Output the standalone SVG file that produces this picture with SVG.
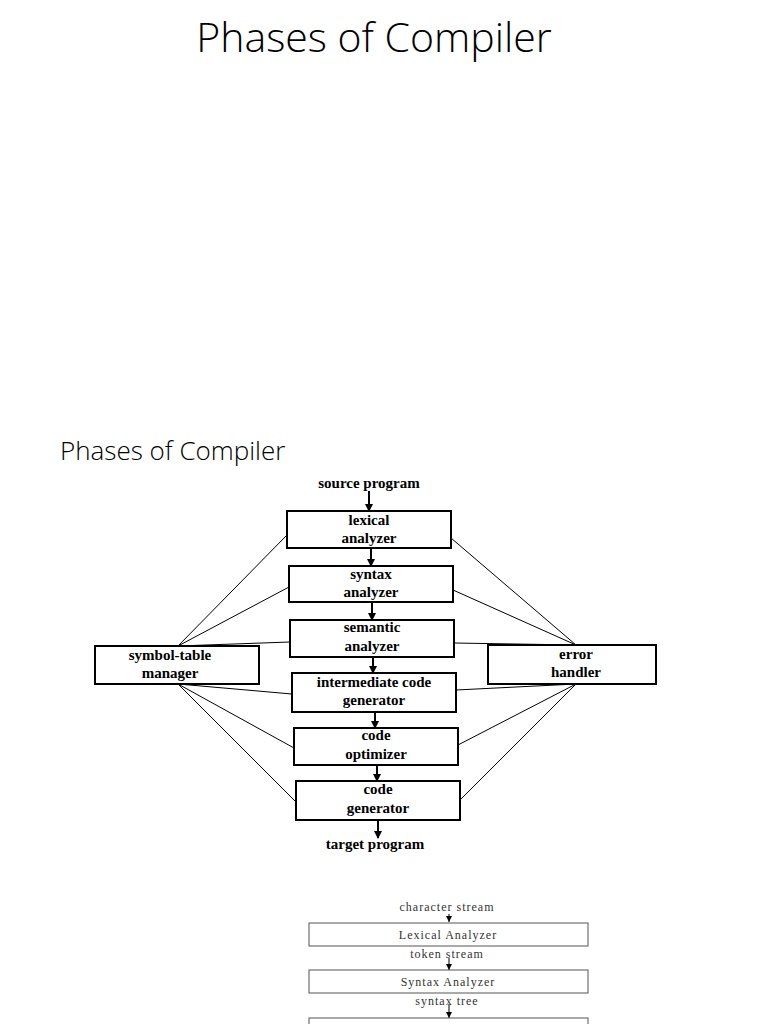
<svg xmlns="http://www.w3.org/2000/svg" width="768" height="1024" viewBox="0 0 768 1024">
<style>
.t{font-family:"Open Sans","Liberation Sans",sans-serif;font-weight:300;fill:#000}
.b{fill:#fff;stroke:#000;stroke-width:2}
.bl{font-family:"Liberation Serif",serif;font-weight:bold;font-size:15px;text-anchor:middle}
.c{stroke:#000;stroke-width:1;fill:none}
.a{stroke:#000;stroke-width:2;fill:none;marker-end:url(#ah)}
.s{fill:#fff;stroke:#555;stroke-width:1}
.sl{font-family:"Liberation Serif",serif;font-size:12px;text-anchor:middle;letter-spacing:1px;fill:#333}
.sa{stroke:#000;stroke-width:1;marker-end:url(#ah2)}
</style>
<defs>
<marker id="ah" markerWidth="8" markerHeight="8" refX="7" refY="4" orient="auto" markerUnits="userSpaceOnUse"><path d="M0,0L8,4L0,8Z"/></marker>
<marker id="ah2" markerWidth="6" markerHeight="6" refX="6" refY="3" orient="auto" markerUnits="userSpaceOnUse"><path d="M0,0L6,3L0,6Z"/></marker>
</defs>
<rect width="768" height="1024" fill="#fff"/>
<text class="t" x="374" y="52" font-size="41" text-anchor="middle">Phases of Compiler</text>
<text class="t" x="60" y="460" font-size="26">Phases of Compiler</text>
<g id="connectors">
<path class="a" d="M369,491V511"/><path class="a" d="M371,548V566"/><path class="a" d="M372,602V620"/><path class="a" d="M373,657V673"/><path class="a" d="M375,712V728"/><path class="a" d="M377,765V781"/><path class="a" d="M378,820V838"/>
<path class="c" d="M178,646L287,535M178,646L289,587M178,646L290,642M178,684L292,694M178,684L294,748M178,684L296,802"/>
<path class="c" d="M576,645L451,538M576,645L453,590M576,645L454,643M576,684L456,690M576,684L458,745M576,684L460,800"/>
<path class="sa" d="M449,914V922"/><path class="sa" d="M449,958V970"/><path class="sa" d="M449,1004V1018"/>
</g>
<g id="lexical"><rect class="b" x="287" y="511" width="164" height="37"/><text class="bl" x="369" y="525">lexical</text><text class="bl" x="369" y="543">analyzer</text></g>
<g id="syntax"><rect class="b" x="289" y="566" width="164" height="36"/><text class="bl" x="371" y="579">syntax</text><text class="bl" x="371" y="597">analyzer</text></g>
<g id="semantic"><rect class="b" x="290" y="620" width="164" height="37"/><text class="bl" x="372" y="632">semantic</text><text class="bl" x="372" y="651">analyzer</text></g>
<g id="intermediate"><rect class="b" x="292" y="673" width="164" height="39"/><text class="bl" x="374" y="687">intermediate code</text><text class="bl" x="374" y="705">generator</text></g>
<g id="optimizer"><rect class="b" x="294" y="728" width="164" height="37"/><text class="bl" x="376" y="740">code</text><text class="bl" x="376" y="759">optimizer</text></g>
<g id="generator"><rect class="b" x="296" y="781" width="164" height="39"/><text class="bl" x="378" y="794">code</text><text class="bl" x="378" y="813">generator</text></g>
<g id="symtab"><rect class="b" x="95" y="646" width="164" height="38"/><text class="bl" x="170" y="660">symbol-table</text><text class="bl" x="170" y="678">manager</text></g>
<g id="error"><rect class="b" x="488" y="645" width="168" height="39"/><text class="bl" x="576" y="659">error</text><text class="bl" x="576" y="677">handler</text></g>
<text class="bl" x="369" y="488">source program</text>
<text class="bl" x="375" y="849">target program</text>
<text class="sl" x="447" y="911">character stream</text>
<g id="lex2"><rect class="s" x="309" y="923" width="279" height="23"/><text class="sl" x="448" y="939">Lexical Analyzer</text></g>
<text class="sl" x="447" y="958">token stream</text>
<g id="syn2"><rect class="s" x="309" y="970" width="279" height="23"/><text class="sl" x="448" y="986">Syntax Analyzer</text></g>
<text class="sl" x="447" y="1005">syntax tree</text>
<g id="sem2"><rect class="s" x="309" y="1018" width="279" height="23"/></g>
</svg>
